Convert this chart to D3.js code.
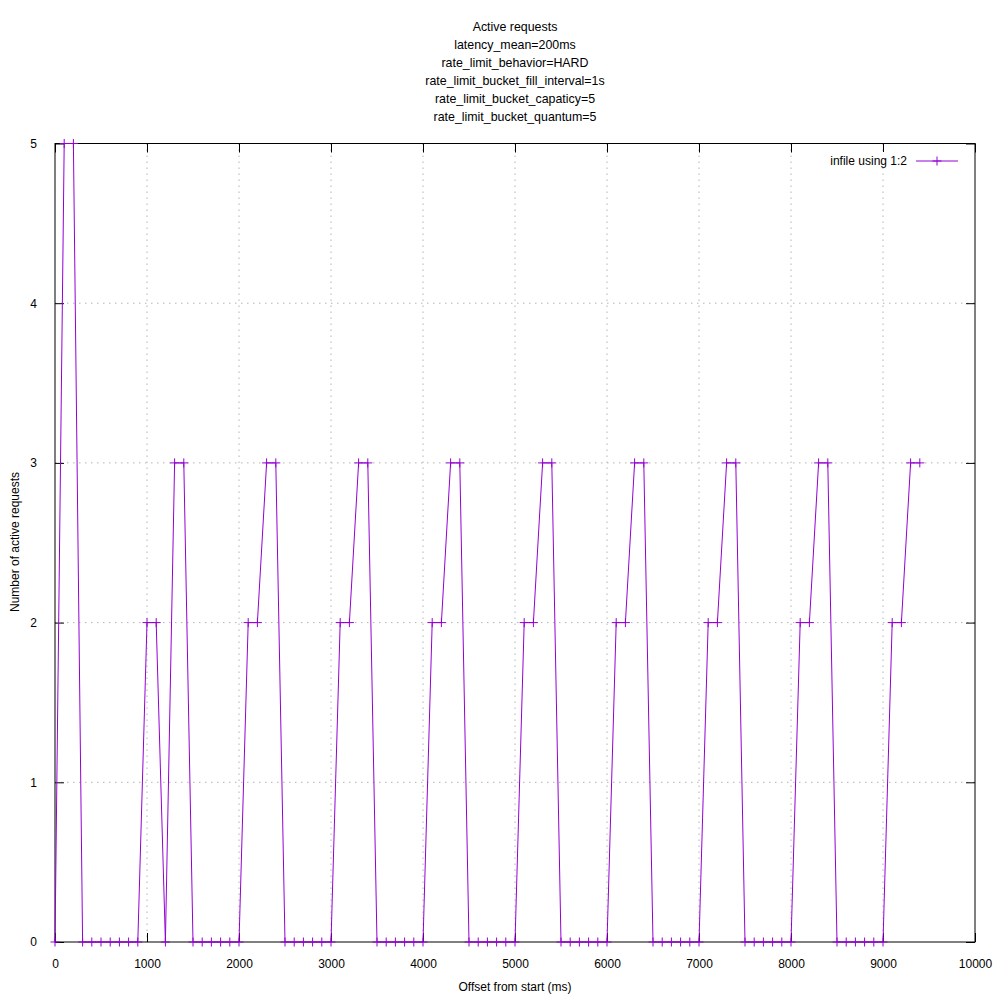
<!DOCTYPE html>
<html lang="en">
<head>
    <meta charset="UTF-8">
    <title>Active requests</title>
    <script src="https://d3js.org/d3.v7.min.js"></script>
    <style>
        body {
            margin: 0;
            background: #fff;
            font-family: "Liberation Sans", Arial, sans-serif;
        }
        svg text {
            font-size: 12px;
            fill: #000;
        }
        svg text.title {
            font-size: 12.4px;
        }
        .grid line {
            stroke: #b4b4b4;
            stroke-width: 1;
            stroke-dasharray: 1.5,4.5;
        }
    </style>
</head>
<body>
    <div id="container"></div>

    <script>
        // Title lines shown above the plot
        const titleLines = [
            'Active requests',
            'latency_mean=200ms',
            'rate_limit_behavior=HARD',
            'rate_limit_bucket_fill_interval=1s',
            'rate_limit_bucket_capaticy=5',
            'rate_limit_bucket_quantum=5'
        ];

        // Offset from start (ms), one sample every 100 ms
        const offsetMs = [
            0, 100, 200, 300, 400, 500, 600, 700, 800, 900,
            1000, 1100, 1200, 1300, 1400, 1500, 1600, 1700, 1800, 1900,
            2000, 2100, 2200, 2300, 2400, 2500, 2600, 2700, 2800, 2900,
            3000, 3100, 3200, 3300, 3400, 3500, 3600, 3700, 3800, 3900,
            4000, 4100, 4200, 4300, 4400, 4500, 4600, 4700, 4800, 4900,
            5000, 5100, 5200, 5300, 5400, 5500, 5600, 5700, 5800, 5900,
            6000, 6100, 6200, 6300, 6400, 6500, 6600, 6700, 6800, 6900,
            7000, 7100, 7200, 7300, 7400, 7500, 7600, 7700, 7800, 7900,
            8000, 8100, 8200, 8300, 8400, 8500, 8600, 8700, 8800, 8900,
            9000, 9100, 9200, 9300, 9400
        ];

        // Number of active requests at each offset
        const activeRequests = [
            0, 5, 5, 0, 0, 0, 0, 0, 0, 0,
            2, 2, 0, 3, 3, 0, 0, 0, 0, 0,
            0, 2, 2, 3, 3, 0, 0, 0, 0, 0,
            0, 2, 2, 3, 3, 0, 0, 0, 0, 0,
            0, 2, 2, 3, 3, 0, 0, 0, 0, 0,
            0, 2, 2, 3, 3, 0, 0, 0, 0, 0,
            0, 2, 2, 3, 3, 0, 0, 0, 0, 0,
            0, 2, 2, 3, 3, 0, 0, 0, 0, 0,
            0, 2, 2, 3, 3, 0, 0, 0, 0, 0,
            0, 2, 2, 3, 3
        ];

        // Tick values
        const xTicks = [0, 1000, 2000, 3000, 4000, 5000, 6000, 7000, 8000, 9000, 10000];
        const yTicks = [0, 1, 2, 3, 4, 5];

        const seriesName = 'infile using 1:2';
        const lineColor = '#9400d3';

        const data = offsetMs.map((t, i) => ({ t: t, v: activeRequests[i] }));

        const svg = d3.select('#container')
            .append('svg')
            .attr('width', 1000)
            .attr('height', 1000);

        // Plot area
        const plotLeft = 55, plotRight = 975, plotTop = 143.5, plotBottom = 942;

        const x = d3.scaleLinear()
            .domain([0, 10000])
            .range([plotLeft, plotRight]);

        const y = d3.scaleLinear()
            .domain([0, 5])
            .range([plotBottom, plotTop]);

        // Grid
        const grid = svg.append('g').attr('class', 'grid');
        grid.selectAll('.gx')
            .data(xTicks.slice(1, -1))
            .enter()
            .append('line')
            .attr('x1', d => x(d)).attr('x2', d => x(d))
            .attr('y1', plotTop).attr('y2', plotBottom);
        grid.selectAll('.gy')
            .data(yTicks.slice(1, -1))
            .enter()
            .append('line')
            .attr('x1', plotLeft).attr('x2', plotRight)
            .attr('y1', d => y(d)).attr('y2', d => y(d));

        // Axes (gnuplot style: ticks inward on all four sides)
        const tickLen = 9;
        const xBottom = svg.append('g')
            .attr('transform', `translate(0,${plotBottom})`)
            .call(d3.axisBottom(x).tickValues(xTicks).tickSize(-tickLen).tickPadding(tickLen + 8).tickFormat(d3.format('d')));
        const xTop = svg.append('g')
            .attr('transform', `translate(0,${plotTop})`)
            .call(d3.axisTop(x).tickValues(xTicks).tickSize(-tickLen).tickFormat(''));
        const yLeft = svg.append('g')
            .attr('transform', `translate(${plotLeft},0)`)
            .call(d3.axisLeft(y).tickValues(yTicks).tickSize(-tickLen).tickPadding(tickLen + 9).tickFormat(d3.format('d')));
        const yRight = svg.append('g')
            .attr('transform', `translate(${plotRight},0)`)
            .call(d3.axisRight(y).tickValues(yTicks).tickSize(-tickLen).tickFormat(''));

        [xBottom, xTop, yLeft, yRight].forEach(g => {
            g.select('.domain').remove();
            g.selectAll('line').attr('stroke', '#000');
            g.selectAll('text')
                .style('font-family', '"Liberation Sans", Arial, sans-serif')
                .style('font-size', '12px')
                .attr('fill', '#000');
        });

        // Border
        svg.append('rect')
            .attr('x', plotLeft)
            .attr('y', plotTop)
            .attr('width', plotRight - plotLeft)
            .attr('height', plotBottom - plotTop)
            .attr('fill', 'none')
            .attr('stroke', '#000')
            .attr('stroke-width', 1);

        // Legend background (hides grid behind key)
        svg.append('rect')
            .attr('x', 822)
            .attr('y', 152)
            .attr('width', 145)
            .attr('height', 16)
            .attr('fill', '#fff');

        // Data line
        const line = d3.line()
            .x(d => x(d.t))
            .y(d => y(d.v));

        svg.append('path')
            .datum(data)
            .attr('fill', 'none')
            .attr('stroke', lineColor)
            .attr('stroke-width', 1)
            .attr('d', line);

        // Point markers ("+")
        const ps = 4.5;
        const cross = (cx, cy) => `M${cx - ps},${cy}H${cx + ps}M${cx},${cy - ps}V${cy + ps}`;

        svg.append('path')
            .attr('fill', 'none')
            .attr('stroke', lineColor)
            .attr('stroke-width', 1)
            .attr('d', data.map(d => cross(x(d.t), y(d.v))).join(''));

        // Legend
        svg.append('text')
            .attr('x', 907)
            .attr('y', 165)
            .attr('text-anchor', 'end')
            .text(seriesName);
        svg.append('line')
            .attr('x1', 916).attr('x2', 958)
            .attr('y1', 161).attr('y2', 161)
            .attr('stroke', lineColor);
        svg.append('path')
            .attr('fill', 'none')
            .attr('stroke', lineColor)
            .attr('d', cross(937, 161));

        // Title
        svg.selectAll('.title')
            .data(titleLines)
            .enter()
            .append('text')
            .attr('class', 'title')
            .attr('x', 515)
            .attr('y', (d, i) => 31 + i * 18)
            .attr('text-anchor', 'middle')
            .text(d => d);

        // Axis labels
        svg.append('text')
            .attr('x', 515)
            .attr('y', 991)
            .attr('text-anchor', 'middle')
            .text('Offset from start (ms)');

        svg.append('text')
            .attr('transform', 'translate(19,542) rotate(-90)')
            .attr('text-anchor', 'middle')
            .text('Number of active requests');
    </script>
</body>
</html>
